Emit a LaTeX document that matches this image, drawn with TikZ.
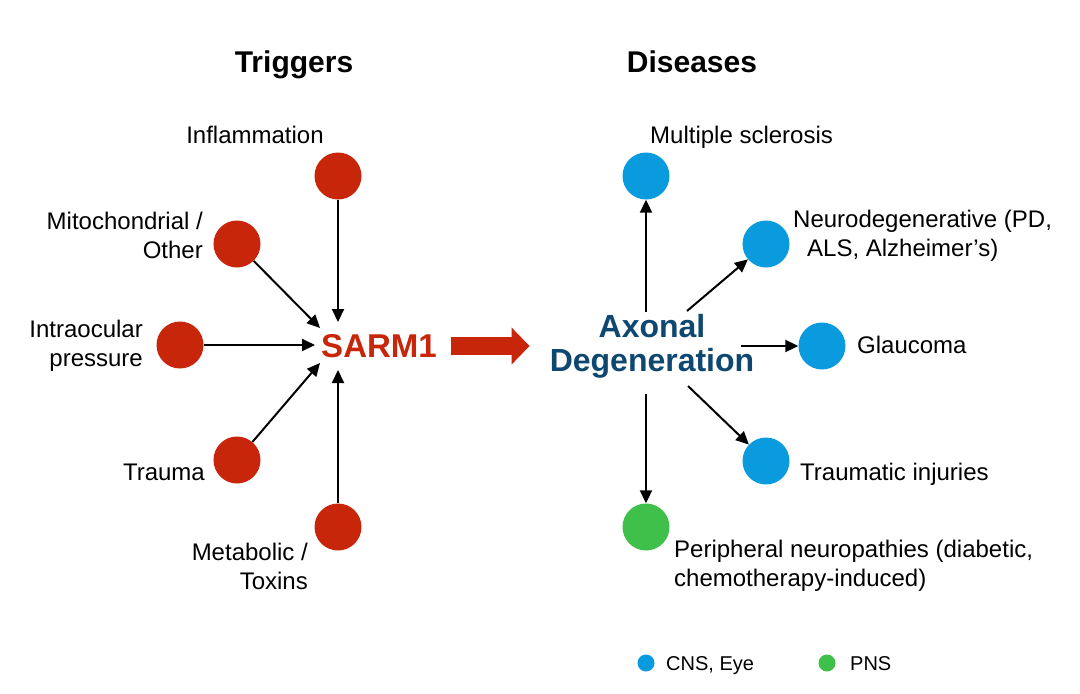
\documentclass[tikz,border=0pt]{standalone}
\usepackage{fontspec}
\setmainfont{Liberation Sans}
\usetikzlibrary{arrows.meta}
\definecolor{trigred}{RGB}{200,38,10}
\definecolor{cnsblue}{RGB}{10,155,222}
\definecolor{pnsgreen}{RGB}{62,192,74}
\definecolor{axonblue}{RGB}{14,72,112}

\begin{document}
\begin{tikzpicture}[x=1pt,y=-1pt,
  dot/.style={circle,inner sep=0pt,minimum size=47pt},
  lbl/.style={inner sep=0pt,font=\fontsize{24}{29}\selectfont},
  ttl/.style={inner sep=0pt,font=\fontsize{30}{36}\selectfont\bfseries},
  arr/.style={-{Triangle[length=13pt,width=12pt]},line width=2pt},
  bigarr/.style={-{Triangle[length=18pt,width=36pt]},line width=18pt,trigred}]
\useasboundingbox (0,0) rectangle (1080,694);
\begin{scope}
% titles
\node[ttl,anchor=base] (trig) at (294,72) {Triggers};
\node[ttl,anchor=base] (dis) at (692,72) {Diseases};
% centre words
\node[inner sep=0pt,font=\fontsize{33}{40}\selectfont\bfseries,text=trigred] (sarm) at (379,346) {SARM1};
\node[inner sep=0pt,align=center,font=\fontsize{32}{34}\selectfont\bfseries,text=axonblue] (axon) at (652,346) {Axonal\\Degeneration};
\draw[bigarr,shorten <=14pt,shorten >=20pt] (sarm) -- (axon);
% triggers
\node[dot,fill=trigred] (infl) at (338,176) {};
\node[dot,fill=trigred] (mito) at (237,244) {};
\node[dot,fill=trigred] (iop) at (180,345) {};
\node[dot,fill=trigred] (trauma) at (237,460) {};
\node[dot,fill=trigred] (meta) at (338,527) {};
\node[lbl,anchor=base] (inflL) at (255,143) {Inflammation};
\node[lbl,anchor=east,align=right] (mitoL) at (203,235) {Mitochondrial /\\Other};
\node[lbl,anchor=east,align=right] (iopL) at (143,346) {Intraocular\\pressure};
\node[lbl,anchor=base east] (traumaL) at (205,480) {Trauma};
\node[lbl,anchor=east,align=right] (metaL) at (308,566) {Metabolic /\\Toxins};
\coordinate (sN) at (338,322);
\coordinate (sNW) at (320,328);
\coordinate (sW) at (315,345);
\coordinate (sSW) at (320,363);
\coordinate (sS) at (338,370);
\draw[arr] (infl) -- (sN);
\draw[arr] (mito) -- (sNW);
\draw[arr] (iop) -- (sW);
\draw[arr] (trauma) -- (sSW);
\draw[arr] (meta) -- (sS);
% diseases
\node[dot,fill=cnsblue] (ms) at (646,176) {};
\node[dot,fill=cnsblue] (nd) at (766,244) {};
\node[dot,fill=cnsblue] (glau) at (822,346) {};
\node[dot,fill=cnsblue] (ti) at (766,461) {};
\node[dot,fill=pnsgreen] (pn) at (646,527) {};
\node[lbl,anchor=base west] (msL) at (650,143) {Multiple sclerosis};
\node[lbl,anchor=west,align=left] (ndL) at (793,236) {Neurodegenerative (PD,\\\hspace*{14pt}ALS, Alzheimer’s)};
\node[lbl,anchor=base west] (glauL) at (857,353) {Glaucoma};
\node[lbl,anchor=base west] (tiL) at (800,480) {Traumatic injuries};
\node[lbl,anchor=west,align=left] (pnL) at (674,566) {Peripheral neuropathies (diabetic,\\chemotherapy-induced)};
\coordinate (aN) at (646,312);
\coordinate (aNE) at (687,311);
\coordinate (aE) at (741,346);
\coordinate (aSE) at (688,386);
\coordinate (aS) at (646,394);
\draw[arr] (aN) -- (ms);
\draw[arr] (aNE) -- (nd);
\draw[arr] (aE) -- (glau);
\draw[arr] (aSE) -- (ti);
\draw[arr] (aS) -- (pn);
% legend
\node[dot,fill=cnsblue,minimum size=17pt] (cnsdot) at (646,663) {};
\node[lbl,font=\fontsize{20}{24}\selectfont,anchor=base west] (cnsL) at (666,670) {CNS, Eye};
\node[dot,fill=pnsgreen,minimum size=17pt] (pnsdot) at (827,663) {};
\node[lbl,font=\fontsize{20}{24}\selectfont,anchor=base west] (pnsL) at (850,670) {PNS};
\end{scope}
\end{tikzpicture}
\end{document}
